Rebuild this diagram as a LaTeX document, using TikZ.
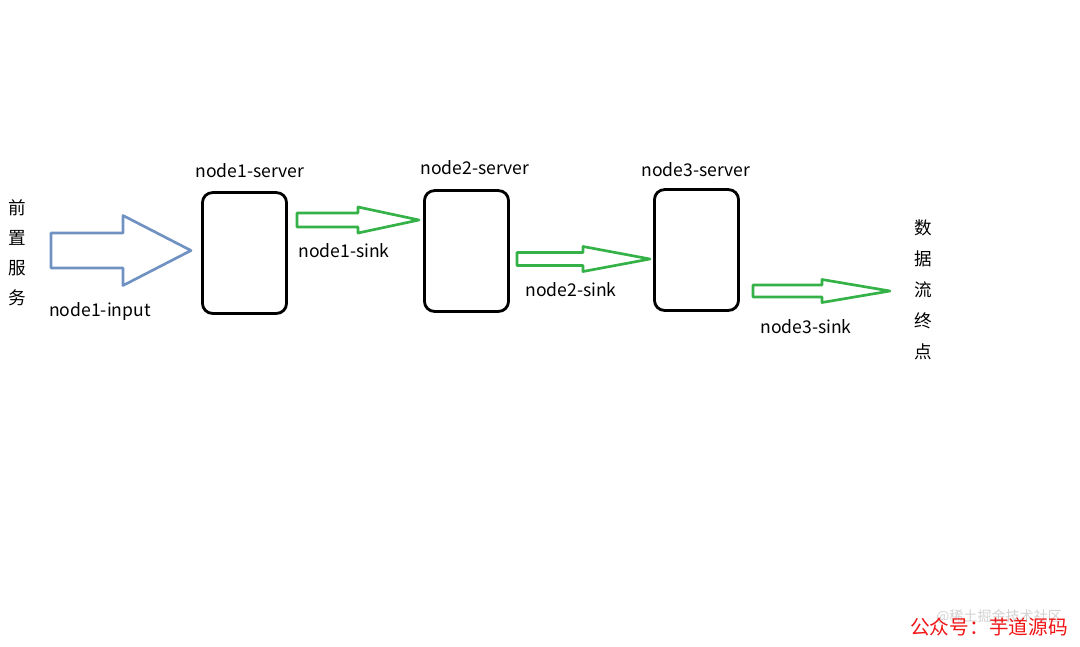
\documentclass[tikz,border=0pt]{standalone}
\usepackage{fontspec}
\setmainfont{Noto Sans CJK SC}
\usetikzlibrary{calc}

\definecolor{inblue}{RGB}{112,146,194}
\definecolor{sinkgreen}{RGB}{52,178,72}
\definecolor{markred}{RGB}{240,20,20}

\tikzset{
    server/.style = {draw, line width=2pt, rounded corners=0.25cm,
                     minimum width=2.1cm, minimum height=3.02cm},
    label/.style  = {font=\fontsize{12.5}{14}\selectfont},
    hanzi/.style  = {font=\fontsize{12.5}{14}\selectfont},
    inflow/.style = {draw=inblue, line width=1.9pt, line join=round},
    sinkflow/.style = {draw=sinkgreen, line width=1.9pt, line join=round}
}

% #1 style, #2 from, #3 to, #4 half shaft, #5 half head, #6 head length
\newcommand\flowarrow[6]{%
    \draw[#1] ($(#2)+(0,-#4)$) -- ($(#3)+(-#6,-#4)$) -- ($(#3)+(-#6,-#5)$)
        -- (#3) -- ($(#3)+(-#6,#5)$) -- ($(#3)+(-#6,#4)$) -- ($(#2)+(0,#4)$) -- cycle;}

\begin{document}
\begin{tikzpicture}[x=0.025cm, y=-0.025cm]
    \useasboundingbox (0,0) rectangle (1080,646);

    % servers
    \node[server] (srv1) at (244.5,253) {};
    \node[server] (srv2) at (466.5,251) {};
    \node[server] (srv3) at (696.5,250) {};
    \node[label] (srv1lab) at (250,171) {node1-server};
    \node[label] (srv2lab) at (475,168) {node2-server};
    \node[label] (srv3lab) at (696,170) {node3-server};

    % input and sinks
    \coordinate (in0) at (51,250.5);
    \coordinate (in1) at (191,250.5);
    \coordinate (sk1a) at (297,220);
    \coordinate (sk1b) at (419,220);
    \coordinate (sk2a) at (517,259);
    \coordinate (sk2b) at (650,259);
    \coordinate (sk3a) at (753,291);
    \coordinate (sk3b) at (890,291);
    \flowarrow{inflow}{in0}{in1}{17.5}{35}{68}
    \flowarrow{sinkflow}{sk1a}{sk1b}{7}{13}{61}
    \flowarrow{sinkflow}{sk2a}{sk2b}{6.5}{12.5}{67}
    \flowarrow{sinkflow}{sk3a}{sk3b}{6}{11.5}{68}
    \node[label] (inlab) at (100,312) {node1-input};
    \node[label] (sk1lab) at (344,251) {node1-sink};
    \node[label] (sk2lab) at (571,290) {node2-sink};
    \node[label] (sk3lab) at (806,327) {node3-sink};

    % vertical texts
    \foreach \c [count=\i] in {前,置,服,务}
        \node[hanzi] (pre\i) at (17, 177+30.3*\i) {\c};
    \foreach \c [count=\i] in {数,据,流,终,点}
        \node[hanzi] (end\i) at (923, 197+31*\i) {\c};

    % watermarks
    \node[text=black!18, font=\fontsize{10}{12}\selectfont] (juejin) at (999,617) {@稀土掘金技术社区};
    \node[text=markred, font=\fontsize{14}{16}\selectfont] (gzh) at (989,627) {公众号：芋道源码};
\end{tikzpicture}
\end{document}
